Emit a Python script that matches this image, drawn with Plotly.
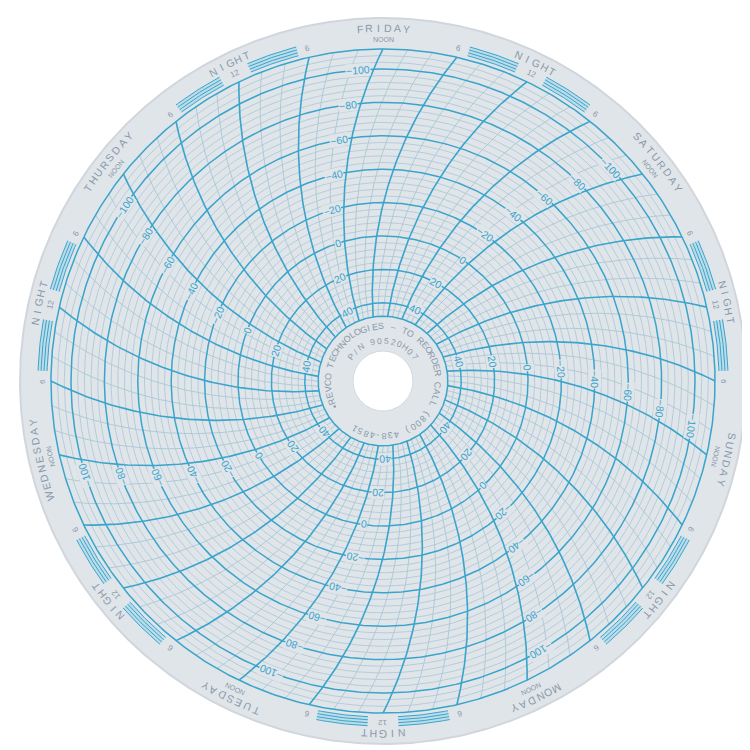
import math
import numpy as np
import plotly.graph_objects as go

# ---------------- chart data ----------------
DAYS = ["FRIDAY", "SATURDAY", "SUNDAY", "MONDAY", "TUESDAY", "WEDNESDAY", "THURSDAY"]
NOON_LABEL = "NOON"
NIGHT_LABEL = "NIGHT"
MIDNIGHT_LABEL = "12"
HOUR_MARKS = [-6, 6]            # hours relative to noon that carry a "6" label
HOUR_MARK_LABEL = "6"
VALUE_TICKS = [-100, -80, -60, -40, -20, 0, 20, 40]
TICK_LABELS = ["\u2212100", "\u221280", "\u221260", "\u221240", "\u221220", "0", "20", "40"]
SCALE_INNER = 48
SCALE_OUTER = -112
MINOR_STEP = 4
HOURS_PER_DAY = 24
ARC_STEP_HOURS = 2
BOLD_EVERY_HOURS = 6
NIGHT_BAND_HOURS = [1.2, 5.2]   # band extent, hours either side of midnight
RING_TEXT = "\u2022REVCO TECHNOLOGIES \u2013 TO REORDER CALL (800) 438-4851"
PN_TEXT = "P/N 90520H07"

# ---------------- geometry & style ----------------
RHO0, K = 145.0, 1.67          # pixel radius = RHO0 - K * value
R_ARC = 370.0                  # pen-arm arc radius
PAPER_R = 363
HOLE_R = 30
TOTAL_H = HOURS_PER_DAY * len(DAYS)

PAPER = "#e0e5ea"
BLUE = "#3aa4cb"
THIN = "#a9c7d5"
GREY_TXT = "#8899a8"
FONT = "Liberation Sans"


def rho(v):
    return RHO0 - K * np.asarray(v, dtype=float)


RHO_OUT = float(rho(SCALE_OUTER))
RHO_IN = float(rho(SCALE_INNER))


def hour_angle(h):
    return np.asarray(h, dtype=float) * 360.0 / TOTAL_H


def arc_angle(h, r):
    r = np.asarray(r, dtype=float)
    return hour_angle(h) - np.degrees(np.arccos(r / (2 * R_ARC)) - math.acos(RHO_OUT / (2 * R_ARC)))


def xy(r, th):
    t = np.radians(th)
    return np.asarray(r) * np.sin(t), np.asarray(r) * np.cos(t)


def join(segments):
    xs, ys = [], []
    for x, y in segments:
        xs.extend(list(x) + [None])
        ys.extend(list(y) + [None])
    return xs, ys


def circle(r, n=721):
    th = np.linspace(0, 360, n)
    return xy(np.full(n, r), th)


fig = go.Figure()

# paper disk
px, py = circle(PAPER_R)
fig.add_trace(go.Scatter(x=px, y=py, mode="lines", fill="toself", fillcolor=PAPER,
                         line=dict(color="#d0d6dc", width=2), hoverinfo="skip"))

# minor grid
minor_vals = [v for v in range(SCALE_OUTER + MINOR_STEP, SCALE_INNER, MINOR_STEP) if v not in VALUE_TICKS]
mx, my = join([circle(float(rho(v))) for v in minor_vals])
fig.add_trace(go.Scatter(x=mx, y=my, mode="lines", line=dict(color=THIN, width=0.8), hoverinfo="skip"))

rs = np.linspace(RHO_IN, RHO_OUT, 90)
arc_hours = list(range(0, TOTAL_H, ARC_STEP_HOURS))
thin_arcs = [xy(rs, arc_angle(h, rs)) for h in arc_hours if h % BOLD_EVERY_HOURS != 0]
ax_, ay_ = join(thin_arcs)
fig.add_trace(go.Scatter(x=ax_, y=ay_, mode="lines", line=dict(color=THIN, width=0.9), hoverinfo="skip"))

# major grid
major_vals = VALUE_TICKS + [SCALE_OUTER, SCALE_INNER]
Mx, My = join([circle(float(rho(v))) for v in major_vals])
fig.add_trace(go.Scatter(x=Mx, y=My, mode="lines", line=dict(color=BLUE, width=1.5), hoverinfo="skip"))
bold_arcs = [xy(rs, arc_angle(h, rs)) for h in arc_hours if h % BOLD_EVERY_HOURS == 0]
bx, by = join(bold_arcs)
fig.add_trace(go.Scatter(x=bx, y=by, mode="lines", line=dict(color=BLUE, width=1.6), hoverinfo="skip"))

# night bands
band_r = [RHO_OUT + 4, RHO_OUT + 7, RHO_OUT + 10, RHO_OUT + 13]
fills, strokes = [], []
for d in range(len(DAYS)):
    mid = d * HOURS_PER_DAY + HOURS_PER_DAY / 2
    for sgn in (-1, 1):
        h0 = mid + sgn * NIGHT_BAND_HOURS[0]
        h1 = mid + sgn * NIGHT_BAND_HOURS[1]
        th = np.linspace(hour_angle(h0), hour_angle(h1), 30)
        xo, yo = xy(np.full(30, band_r[-1]), th)
        xi, yi = xy(np.full(30, band_r[0]), th[::-1])
        fills.append((np.concatenate([xo, xi, xo[:1]]), np.concatenate([yo, yi, yo[:1]])))
        for r in band_r:
            strokes.append(xy(np.full(30, r), th))
fx, fy = join(fills)
fig.add_trace(go.Scatter(x=fx, y=fy, mode="lines", fill="toself", fillcolor="#bcdce9",
                         line=dict(width=0, color="#bcdce9"), hoverinfo="skip"))
sx, sy = join(strokes)
fig.add_trace(go.Scatter(x=sx, y=sy, mode="lines", line=dict(color=BLUE, width=1.0), hoverinfo="skip"))

# hole
hx, hy = circle(HOLE_R)
fig.add_trace(go.Scatter(x=hx, y=hy, mode="lines", fill="toself", fillcolor="white",
                         line=dict(color="#d4d9de", width=1), hoverinfo="skip"))

annotations = []


def norm(a):
    return ((a + 180.0) % 360.0) - 180.0


def text_at(r, th, s, size, color, bg=None, family=FONT):
    x, y = xy(r, th)
    a = dict(x=float(x), y=float(y), xref="x", yref="y", text=s, showarrow=False,
             textangle=float(norm(th)), xanchor="center", yanchor="middle",
             font=dict(size=size, color=color, family=family), borderpad=0)
    if bg:
        a["bgcolor"] = bg
    annotations.append(a)


def curved(text, r, th_start, step, size, color, family=FONT):
    for i, ch in enumerate(text):
        if ch == " ":
            continue
        text_at(r, th_start + i * step, ch, size, color, family=family)


def curved_center(text, r, th_center, step_px, size, color):
    step = math.degrees(step_px / r)
    start = th_center - (len(text) - 1) / 2 * step
    curved(text, r, start, step, size, color)


# value labels along each day's noon arc
for d in range(len(DAYS)):
    h = d * HOURS_PER_DAY
    for v, lab in zip(VALUE_TICKS, TICK_LABELS):
        r = float(rho(v))
        th_a = float(arc_angle(h, r))
        w = len(lab) * 6.0
        th_l = th_a - math.degrees((w / 2 + 3.5) / r)
        text_at(r, th_l, lab, 10.5, BLUE, bg=PAPER)

# outer ring labels
for d, name in enumerate(DAYS):
    noon = d * HOURS_PER_DAY
    curved_center(name, RHO_OUT + 21, float(hour_angle(noon)), 9.4, 10.5, GREY_TXT)
    text_at(RHO_OUT + 9.5, float(hour_angle(noon)), NOON_LABEL, 7, GREY_TXT)
    for m in HOUR_MARKS:
        text_at(RHO_OUT + 9, float(hour_angle(noon + m)), HOUR_MARK_LABEL, 8, GREY_TXT)
    mid = noon + HOURS_PER_DAY / 2
    curved_center(NIGHT_LABEL, RHO_OUT + 21, float(hour_angle(mid)), 9.4, 10.5, GREY_TXT)
    text_at(RHO_OUT + 9.5, float(hour_angle(mid)), MIDNIGHT_LABEL, 8, GREY_TXT)

# centre ring texts
curved(RING_TEXT, 55, 242.0, 6.45, 9, GREY_TXT)
curved_center(PN_TEXT, 40.5, 0.0, 6.8, 8.5, GREY_TXT)

fig.update_layout(
    width=750, height=750, margin=dict(l=0, r=0, t=0, b=0),
    paper_bgcolor="white", plot_bgcolor="white", showlegend=False,
    xaxis=dict(range=[-375, 375], visible=False, fixedrange=True),
    yaxis=dict(range=[-377, 373], visible=False, fixedrange=True),
    annotations=annotations,
)

fig.write_html("out.html")
